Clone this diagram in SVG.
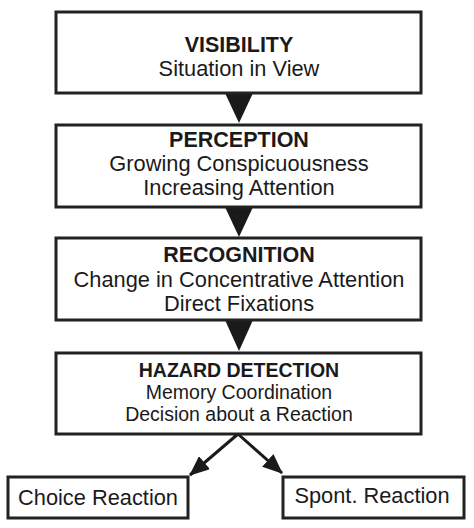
<svg xmlns="http://www.w3.org/2000/svg" width="474" height="528" viewBox="0 0 474 528">
<defs>
<style>
.box{fill:#fff;stroke:#222;stroke-width:3}
.t{font-family:"Liberation Sans",Arial,sans-serif;fill:#1a1a1a;text-anchor:middle}
.h{font-size:21.5px;font-weight:bold}
.h2{font-size:19.5px;font-weight:bold}
.s{font-size:21.8px}
.s2{font-size:19.5px}
.tri{fill:#1a1a1a}
.ln{stroke:#1a1a1a;stroke-width:3;fill:none}
</style>
<marker id="ah" viewBox="0 0 20 17" refX="19" refY="8.5" markerWidth="20" markerHeight="17" orient="auto" markerUnits="userSpaceOnUse">
<path d="M0,0 L20,8.5 L0,17 z" fill="#1a1a1a"/>
</marker>
</defs>
<g id="connectors">
<polygon class="tri" points="225,93 253,93 239,123"/>
<polygon class="tri" points="225,207 253,207 239,237"/>
<polygon class="tri" points="225,320 253,320 239,351"/>
<line class="ln" x1="238" y1="434" x2="190" y2="475" marker-end="url(#ah)"/>
<line class="ln" x1="238" y1="434" x2="282" y2="473" marker-end="url(#ah)"/>
</g>
<g id="visibility">
<rect class="box" x="56" y="12" width="365" height="81"/>
<text class="t h" x="239" y="52">VISIBILITY</text>
<text class="t s" x="239" y="76">Situation in View</text>
</g>
<g id="perception">
<rect class="box" x="56" y="125" width="365" height="82"/>
<text class="t h" x="239" y="147">PERCEPTION</text>
<text class="t s" x="239" y="171">Growing Conspicuousness</text>
<text class="t s" x="239" y="195">Increasing Attention</text>
</g>
<g id="recognition">
<rect class="box" x="56" y="238" width="365" height="82"/>
<text class="t h" x="239" y="262">RECOGNITION</text>
<text class="t s" x="239" y="287">Change in Concentrative Attention</text>
<text class="t s" x="239" y="311">Direct Fixations</text>
</g>
<g id="hazard">
<rect class="box" x="56" y="353" width="365" height="81"/>
<text class="t h2" x="239" y="377">HAZARD DETECTION</text>
<text class="t s2" x="239" y="399">Memory Coordination</text>
<text class="t s2" x="239" y="421">Decision about a Reaction</text>
</g>
<g id="choice">
<rect class="box" x="8" y="477" width="180" height="41"/>
<text class="t s" x="98" y="505">Choice Reaction</text>
</g>
<g id="spont">
<rect class="box" x="283" y="477" width="181" height="41"/>
<text class="t s" x="372" y="503">Spont. Reaction</text>
</g>
</svg>
